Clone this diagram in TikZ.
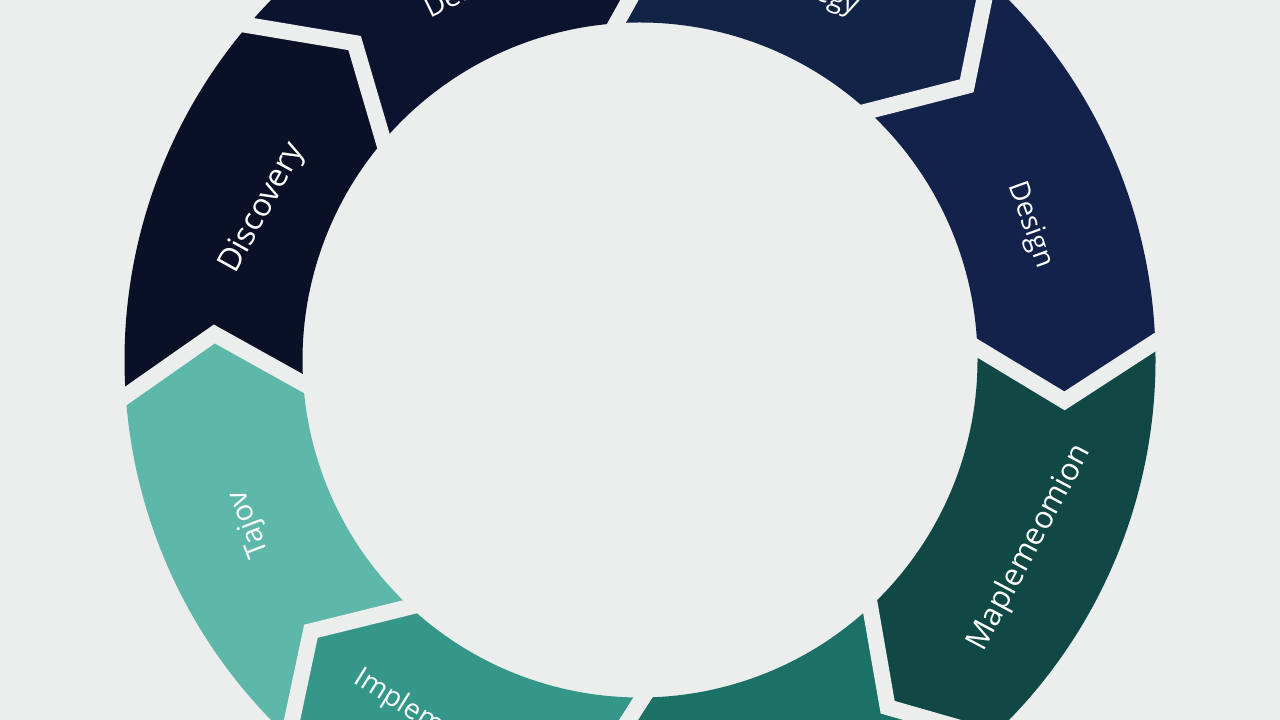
\documentclass[tikz,border=0pt]{standalone}
\usepackage{fontspec}
\newfontfamily\lblfont{Open Sans}
\usetikzlibrary{calc}
\definecolor{bg}{RGB}{236,237,237}
\definecolor{cDis}{RGB}{10,16,38}
\definecolor{cTL}{RGB}{11,19,46}
\definecolor{cTR}{RGB}{18,35,72}
\definecolor{cDes}{RGB}{19,34,74}
\definecolor{cMap}{RGB}{15,72,68}
\definecolor{cBot}{RGB}{27,113,101}
\definecolor{cImp}{RGB}{52,151,137}
\definecolor{cTaj}{RGB}{94,184,169}
\def\Rin{337.5}
\def\Rout{515.5}
\def\Rmid{426.5}
\def\tipoff{7.5}
\begin{document}
\begin{tikzpicture}[x=1pt,y=1pt,
  gap/.style={draw=bg, line width=16pt, line join=miter, miter limit=10},
  lbl/.style={text=white, font=\lblfont\fontsize{28}{28}\selectfont, inner sep=0pt}]
\fill[bg] (0,0) rectangle (1280,720);
\useasboundingbox (0,0) rectangle (1280,720);
\clip (0,0) rectangle (1280,720);
\begin{scope}[shift={(640,360)}]
\foreach \a/\b/\c in {2/-47/cMap, 47.5/2/cDes, 94/47.5/cTR, 139.5/94/cTL, 184/139.5/cDis, 227/184/cTaj, 270.5/227/cImp, 313/270.5/cBot}{
  \fill[\c] (\a:\Rout pt) arc[start angle=\a, end angle=\b, radius=\Rout pt]
    -- (\b-\tipoff:\Rmid pt) -- (\b:\Rin pt)
    arc[start angle=\b, end angle=\a, radius=\Rin pt]
    -- (\a-\tipoff:\Rmid pt) -- cycle;
}
\foreach \t in {2,47.5,94,139.5,184,227,270.5,313}{
  \draw[gap] ($(\t-\tipoff:\Rmid pt)!1.4!(\t:\Rout pt)$) -- (\t-\tipoff:\Rmid pt)
    -- ($(\t-\tipoff:\Rmid pt)!1.4!(\t:\Rin pt)$);
}
\end{scope}
\node[lbl, rotate=61, font=\lblfont\fontsize{32}{32}\selectfont] (discovery) at (263,512) {Discovery};
\node[lbl, rotate=26] (define) at (464,730) {Define};
\node[lbl, rotate=-22] (strategy) at (808,731) {Strategy};
\node[lbl, rotate=-70] (design) at (1030,495) {Design};
\node[lbl, rotate=62, font=\lblfont\fontsize{31}{31}\selectfont] (maple) at (1030,172) {Maplemeomion};
\node[lbl, rotate=-32] (imple) at (445,-12) {Implementation};
\node[lbl, rotate=111, font=\lblfont\fontsize{29}{29}\selectfont] (tajov) at (250,196) {Tajov};
\end{tikzpicture}
\end{document}
